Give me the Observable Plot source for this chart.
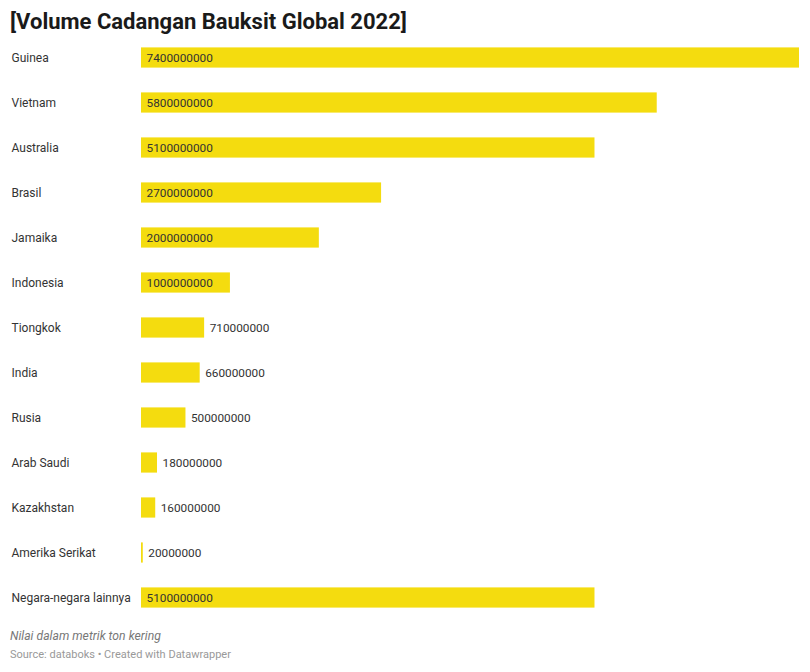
<!DOCTYPE html>
<html>
<head>
<meta charset="utf-8">
<script src="https://cdn.jsdelivr.net/npm/d3@7"></script>
<script src="https://cdn.jsdelivr.net/npm/@observablehq/plot@0.6"></script>
<style>
  html, body { margin: 0; padding: 0; background: #fff; }
  body { width: 810px; height: 672px; position: relative; font-family: Roboto, "Noto Sans", sans-serif; overflow: hidden; }
  #title { position: absolute; left: 10px; top: 5px; font-size: 22px; font-weight: 700; color: #1a1a1a; line-height: 34px; white-space: nowrap; }
  #chart { position: absolute; left: 0; top: 32px; line-height: 0; }
  #chart svg { display: block; }
  #note { position: absolute; left: 10px; top: 629px; font-size: 12.2px; font-style: italic; color: #777; }
  #source { position: absolute; left: 10px; top: 648px; font-size: 11px; color: #999; }
</style>
</head>
<body>
<div id="title">[Volume Cadangan Bauksit Global 2022]</div>
<div id="chart"></div>
<div id="note">Nilai dalam metrik ton kering</div>
<div id="source">Source: databoks • Created with Datawrapper</div>
<script>
// Bauxite reserves by country, 2022 (metric tons, dry)
const countries = [
  "Guinea", "Vietnam", "Australia", "Brasil", "Jamaika", "Indonesia",
  "Tiongkok", "India", "Rusia", "Arab Saudi", "Kazakhstan",
  "Amerika Serikat", "Negara-negara lainnya"
];
const reserves = [
  7400000000, 5800000000, 5100000000, 2700000000, 2000000000, 1000000000,
  710000000, 660000000, 500000000, 180000000, 160000000,
  20000000, 5100000000
];

const rows = countries.map((c, i) => ({country: c, value: reserves[i]}));

const width = 810, height = 590;
const marginLeft = 141, marginRight = 11;
const xMax = d3.max(reserves);
const plotW = width - marginLeft - marginRight;
// a value label fits inside its bar when the bar is wider than the text
const fitsInside = d => (d.value / xMax) * plotW > 78;

const chart = Plot.plot({
  width, height,
  marginLeft, marginRight, marginTop: 0, marginBottom: 0,
  x: {domain: [0, xMax], axis: null},
  y: {domain: countries, padding: 0, axis: null},
  style: {fontFamily: "Roboto, 'Noto Sans', sans-serif", fontSize: "12px", color: "#333"},
  marks: [
    Plot.barX(rows, {x: "value", y: "country", fill: "#f4dc0f", insetTop: 12.4, insetBottom: 12.4}),
    Plot.text(rows, {
      y: "country", text: "country", frameAnchor: "left", dx: -130,
      textAnchor: "start", fill: "#333", fontSize: 12
    }),
    Plot.text(rows.filter(fitsInside), {
      x: 0, y: "country", text: d => String(d.value), textAnchor: "start", dx: 5,
      fill: "#333", fontSize: 11.8
    }),
    Plot.text(rows.filter(d => !fitsInside(d)), {
      x: "value", y: "country", text: d => String(d.value), textAnchor: "start", dx: 5,
      fill: "#333", fontSize: 11.8
    })
  ]
});
document.getElementById("chart").appendChild(chart);
</script>
</body>
</html>
